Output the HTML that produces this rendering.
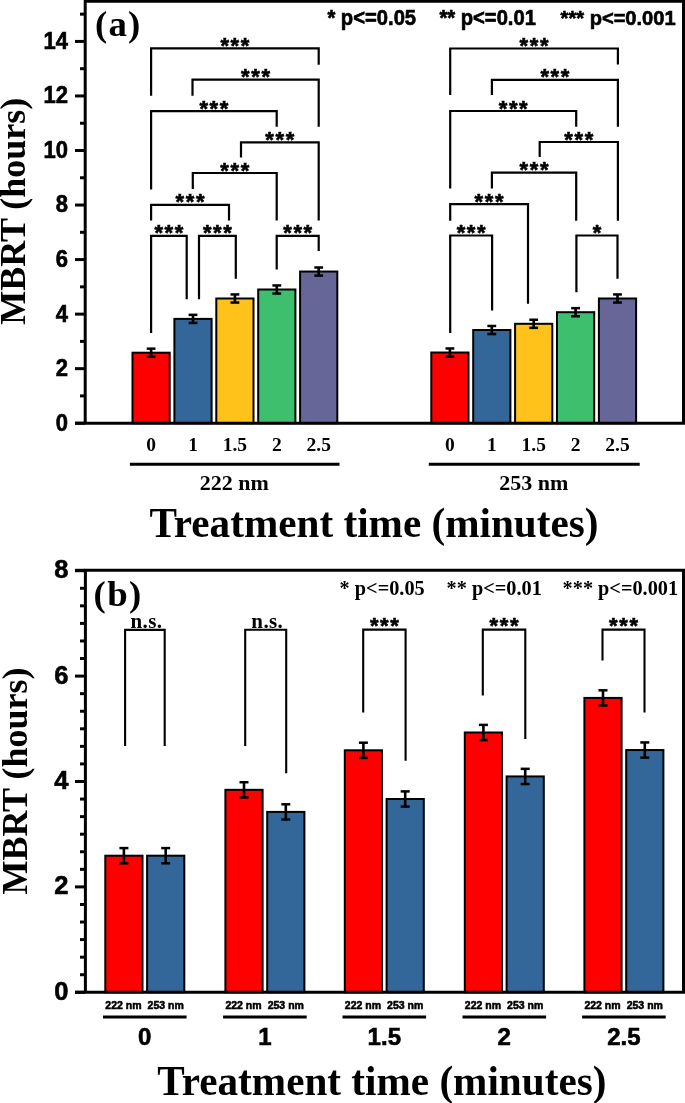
<!DOCTYPE html>
<html><head><meta charset="utf-8"><title>MBRT chart</title>
<style>html,body{margin:0;padding:0;background:#fff;}svg{display:block;}</style></head>
<body><svg width="685" height="1103" viewBox="0 0 685 1103">
<rect width="685" height="1103" fill="#fff"/>
<rect x="132.50" y="352.71" width="37.20" height="70.49" fill="#FF0000" stroke="#000" stroke-width="2.0"/>
<line x1="151.10" y1="348.66" x2="151.10" y2="356.76" stroke="#000" stroke-width="2.6"/>
<line x1="146.70" y1="348.66" x2="155.50" y2="348.66" stroke="#000" stroke-width="2.5"/>
<line x1="146.70" y1="356.76" x2="155.50" y2="356.76" stroke="#000" stroke-width="2.5"/>
<rect x="174.40" y="318.89" width="37.20" height="104.31" fill="#336699" stroke="#000" stroke-width="2.0"/>
<line x1="193.00" y1="314.84" x2="193.00" y2="322.94" stroke="#000" stroke-width="2.6"/>
<line x1="188.60" y1="314.84" x2="197.40" y2="314.84" stroke="#000" stroke-width="2.5"/>
<line x1="188.60" y1="322.94" x2="197.40" y2="322.94" stroke="#000" stroke-width="2.5"/>
<rect x="216.30" y="298.49" width="37.20" height="124.71" fill="#FFC21A" stroke="#000" stroke-width="2.0"/>
<line x1="234.90" y1="294.44" x2="234.90" y2="302.54" stroke="#000" stroke-width="2.6"/>
<line x1="230.50" y1="294.44" x2="239.30" y2="294.44" stroke="#000" stroke-width="2.5"/>
<line x1="230.50" y1="302.54" x2="239.30" y2="302.54" stroke="#000" stroke-width="2.5"/>
<rect x="258.20" y="289.50" width="37.20" height="133.70" fill="#3DBF6E" stroke="#000" stroke-width="2.0"/>
<line x1="276.80" y1="285.45" x2="276.80" y2="293.55" stroke="#000" stroke-width="2.6"/>
<line x1="272.40" y1="285.45" x2="281.20" y2="285.45" stroke="#000" stroke-width="2.5"/>
<line x1="272.40" y1="293.55" x2="281.20" y2="293.55" stroke="#000" stroke-width="2.5"/>
<rect x="300.10" y="271.55" width="37.20" height="151.65" fill="#666699" stroke="#000" stroke-width="2.0"/>
<line x1="318.70" y1="267.50" x2="318.70" y2="275.60" stroke="#000" stroke-width="2.6"/>
<line x1="314.30" y1="267.50" x2="323.10" y2="267.50" stroke="#000" stroke-width="2.5"/>
<line x1="314.30" y1="275.60" x2="323.10" y2="275.60" stroke="#000" stroke-width="2.5"/>
<rect x="431.30" y="352.52" width="37.20" height="70.68" fill="#FF0000" stroke="#000" stroke-width="2.0"/>
<line x1="449.90" y1="348.47" x2="449.90" y2="356.57" stroke="#000" stroke-width="2.6"/>
<line x1="445.50" y1="348.47" x2="454.30" y2="348.47" stroke="#000" stroke-width="2.5"/>
<line x1="445.50" y1="356.57" x2="454.30" y2="356.57" stroke="#000" stroke-width="2.5"/>
<rect x="473.20" y="330.02" width="37.20" height="93.18" fill="#336699" stroke="#000" stroke-width="2.0"/>
<line x1="491.80" y1="325.97" x2="491.80" y2="334.07" stroke="#000" stroke-width="2.6"/>
<line x1="487.40" y1="325.97" x2="496.20" y2="325.97" stroke="#000" stroke-width="2.5"/>
<line x1="487.40" y1="334.07" x2="496.20" y2="334.07" stroke="#000" stroke-width="2.5"/>
<rect x="515.10" y="323.80" width="37.20" height="99.40" fill="#FFC21A" stroke="#000" stroke-width="2.0"/>
<line x1="533.70" y1="319.75" x2="533.70" y2="327.85" stroke="#000" stroke-width="2.6"/>
<line x1="529.30" y1="319.75" x2="538.10" y2="319.75" stroke="#000" stroke-width="2.5"/>
<line x1="529.30" y1="327.85" x2="538.10" y2="327.85" stroke="#000" stroke-width="2.5"/>
<rect x="557.00" y="312.21" width="37.20" height="110.99" fill="#3DBF6E" stroke="#000" stroke-width="2.0"/>
<line x1="575.60" y1="308.16" x2="575.60" y2="316.26" stroke="#000" stroke-width="2.6"/>
<line x1="571.20" y1="308.16" x2="580.00" y2="308.16" stroke="#000" stroke-width="2.5"/>
<line x1="571.20" y1="316.26" x2="580.00" y2="316.26" stroke="#000" stroke-width="2.5"/>
<rect x="598.90" y="298.49" width="37.20" height="124.71" fill="#666699" stroke="#000" stroke-width="2.0"/>
<line x1="617.50" y1="294.44" x2="617.50" y2="302.54" stroke="#000" stroke-width="2.6"/>
<line x1="613.10" y1="294.44" x2="621.90" y2="294.44" stroke="#000" stroke-width="2.5"/>
<line x1="613.10" y1="302.54" x2="621.90" y2="302.54" stroke="#000" stroke-width="2.5"/>
<path d="M151.10 95.70V48.40H318.70V64.70" fill="none" stroke="#000" stroke-width="2.2"/>
<text x="220.40" y="52.95" font-family="'Liberation Sans', Arial, sans-serif" font-weight="bold" font-size="22" text-anchor="start" stroke="#000" stroke-width="0.6" letter-spacing="1.64">***</text>
<path d="M192.50 95.70V79.60H318.70V126.70" fill="none" stroke="#000" stroke-width="2.2"/>
<text x="241.10" y="84.15" font-family="'Liberation Sans', Arial, sans-serif" font-weight="bold" font-size="22" text-anchor="start" stroke="#000" stroke-width="0.6" letter-spacing="1.64">***</text>
<path d="M151.10 189.50V111.20H276.70V126.70" fill="none" stroke="#000" stroke-width="2.2"/>
<text x="199.40" y="115.75" font-family="'Liberation Sans', Arial, sans-serif" font-weight="bold" font-size="22" text-anchor="start" stroke="#000" stroke-width="0.6" letter-spacing="1.64">***</text>
<path d="M241.00 157.60V142.30H318.70V220.50" fill="none" stroke="#000" stroke-width="2.2"/>
<text x="265.35" y="146.85" font-family="'Liberation Sans', Arial, sans-serif" font-weight="bold" font-size="22" text-anchor="start" stroke="#000" stroke-width="0.6" letter-spacing="1.64">***</text>
<path d="M192.80 188.90V173.00H276.70V220.50" fill="none" stroke="#000" stroke-width="2.2"/>
<text x="220.25" y="177.55" font-family="'Liberation Sans', Arial, sans-serif" font-weight="bold" font-size="22" text-anchor="start" stroke="#000" stroke-width="0.6" letter-spacing="1.64">***</text>
<path d="M151.10 220.50V204.80H229.00V220.50" fill="none" stroke="#000" stroke-width="2.2"/>
<text x="175.55" y="209.35" font-family="'Liberation Sans', Arial, sans-serif" font-weight="bold" font-size="22" text-anchor="start" stroke="#000" stroke-width="0.6" letter-spacing="1.64">***</text>
<path d="M151.10 333.00V235.80H186.70V299.30" fill="none" stroke="#000" stroke-width="2.2"/>
<text x="154.40" y="240.35" font-family="'Liberation Sans', Arial, sans-serif" font-weight="bold" font-size="22" text-anchor="start" stroke="#000" stroke-width="0.6" letter-spacing="1.64">***</text>
<path d="M199.00 299.30V235.80H235.80V278.70" fill="none" stroke="#000" stroke-width="2.2"/>
<text x="202.90" y="240.35" font-family="'Liberation Sans', Arial, sans-serif" font-weight="bold" font-size="22" text-anchor="start" stroke="#000" stroke-width="0.6" letter-spacing="1.64">***</text>
<path d="M276.70 269.50V235.80H318.70V251.10" fill="none" stroke="#000" stroke-width="2.2"/>
<text x="283.20" y="240.35" font-family="'Liberation Sans', Arial, sans-serif" font-weight="bold" font-size="22" text-anchor="start" stroke="#000" stroke-width="0.6" letter-spacing="1.64">***</text>
<path d="M450.20 95.10V48.50H617.90V64.50" fill="none" stroke="#000" stroke-width="2.2"/>
<text x="519.55" y="53.05" font-family="'Liberation Sans', Arial, sans-serif" font-weight="bold" font-size="22" text-anchor="start" stroke="#000" stroke-width="0.6" letter-spacing="1.64">***</text>
<path d="M491.90 95.10V79.80H617.90V126.70" fill="none" stroke="#000" stroke-width="2.2"/>
<text x="540.40" y="84.35" font-family="'Liberation Sans', Arial, sans-serif" font-weight="bold" font-size="22" text-anchor="start" stroke="#000" stroke-width="0.6" letter-spacing="1.64">***</text>
<path d="M450.20 188.60V111.00H576.20V126.70" fill="none" stroke="#000" stroke-width="2.2"/>
<text x="498.70" y="115.55" font-family="'Liberation Sans', Arial, sans-serif" font-weight="bold" font-size="22" text-anchor="start" stroke="#000" stroke-width="0.6" letter-spacing="1.64">***</text>
<path d="M539.70 157.00V142.00H617.90V220.80" fill="none" stroke="#000" stroke-width="2.2"/>
<text x="564.30" y="146.55" font-family="'Liberation Sans', Arial, sans-serif" font-weight="bold" font-size="22" text-anchor="start" stroke="#000" stroke-width="0.6" letter-spacing="1.64">***</text>
<path d="M491.90 188.60V172.70H576.20V220.80" fill="none" stroke="#000" stroke-width="2.2"/>
<text x="519.55" y="177.25" font-family="'Liberation Sans', Arial, sans-serif" font-weight="bold" font-size="22" text-anchor="start" stroke="#000" stroke-width="0.6" letter-spacing="1.64">***</text>
<path d="M450.20 220.80V204.20H528.00V303.80" fill="none" stroke="#000" stroke-width="2.2"/>
<text x="474.60" y="208.75" font-family="'Liberation Sans', Arial, sans-serif" font-weight="bold" font-size="22" text-anchor="start" stroke="#000" stroke-width="0.6" letter-spacing="1.64">***</text>
<path d="M450.20 333.00V235.50H492.10V310.40" fill="none" stroke="#000" stroke-width="2.2"/>
<text x="456.65" y="240.05" font-family="'Liberation Sans', Arial, sans-serif" font-weight="bold" font-size="22" text-anchor="start" stroke="#000" stroke-width="0.6" letter-spacing="1.64">***</text>
<path d="M576.40 292.30V235.50H617.50V278.80" fill="none" stroke="#000" stroke-width="2.2"/>
<text x="592.65" y="240.05" font-family="'Liberation Sans', Arial, sans-serif" font-weight="bold" font-size="22" text-anchor="start" stroke="#000" stroke-width="0.6" letter-spacing="1.64">*</text>
<path d="M85.2 423.3V1.3H683.5V423.3" fill="none" stroke="#000" stroke-width="3"/>
<line x1="75.00" y1="423.30" x2="685.00" y2="423.30" stroke="#000" stroke-width="3"/>
<line x1="75.00" y1="423.20" x2="85.00" y2="423.20" stroke="#000" stroke-width="3"/>
<text transform="translate(68.00,430.60) scale(1,1.05)" font-family="'Liberation Sans', Arial, sans-serif" font-weight="bold" font-size="22" text-anchor="end" stroke="#000" stroke-width="0.6" >0</text>
<line x1="80.00" y1="395.93" x2="85.00" y2="395.93" stroke="#000" stroke-width="3"/>
<line x1="75.00" y1="368.66" x2="85.00" y2="368.66" stroke="#000" stroke-width="3"/>
<text transform="translate(68.00,376.06) scale(1,1.05)" font-family="'Liberation Sans', Arial, sans-serif" font-weight="bold" font-size="22" text-anchor="end" stroke="#000" stroke-width="0.6" >2</text>
<line x1="80.00" y1="341.39" x2="85.00" y2="341.39" stroke="#000" stroke-width="3"/>
<line x1="75.00" y1="314.12" x2="85.00" y2="314.12" stroke="#000" stroke-width="3"/>
<text transform="translate(68.00,321.52) scale(1,1.05)" font-family="'Liberation Sans', Arial, sans-serif" font-weight="bold" font-size="22" text-anchor="end" stroke="#000" stroke-width="0.6" >4</text>
<line x1="80.00" y1="286.85" x2="85.00" y2="286.85" stroke="#000" stroke-width="3"/>
<line x1="75.00" y1="259.58" x2="85.00" y2="259.58" stroke="#000" stroke-width="3"/>
<text transform="translate(68.00,266.98) scale(1,1.05)" font-family="'Liberation Sans', Arial, sans-serif" font-weight="bold" font-size="22" text-anchor="end" stroke="#000" stroke-width="0.6" >6</text>
<line x1="80.00" y1="232.31" x2="85.00" y2="232.31" stroke="#000" stroke-width="3"/>
<line x1="75.00" y1="205.04" x2="85.00" y2="205.04" stroke="#000" stroke-width="3"/>
<text transform="translate(68.00,212.44) scale(1,1.05)" font-family="'Liberation Sans', Arial, sans-serif" font-weight="bold" font-size="22" text-anchor="end" stroke="#000" stroke-width="0.6" >8</text>
<line x1="80.00" y1="177.77" x2="85.00" y2="177.77" stroke="#000" stroke-width="3"/>
<line x1="75.00" y1="150.50" x2="85.00" y2="150.50" stroke="#000" stroke-width="3"/>
<text transform="translate(68.00,157.90) scale(1,1.05)" font-family="'Liberation Sans', Arial, sans-serif" font-weight="bold" font-size="22" text-anchor="end" stroke="#000" stroke-width="0.6" >10</text>
<line x1="80.00" y1="123.23" x2="85.00" y2="123.23" stroke="#000" stroke-width="3"/>
<line x1="75.00" y1="95.96" x2="85.00" y2="95.96" stroke="#000" stroke-width="3"/>
<text transform="translate(68.00,103.36) scale(1,1.05)" font-family="'Liberation Sans', Arial, sans-serif" font-weight="bold" font-size="22" text-anchor="end" stroke="#000" stroke-width="0.6" >12</text>
<line x1="80.00" y1="68.69" x2="85.00" y2="68.69" stroke="#000" stroke-width="3"/>
<line x1="75.00" y1="41.42" x2="85.00" y2="41.42" stroke="#000" stroke-width="3"/>
<text transform="translate(68.00,48.82) scale(1,1.05)" font-family="'Liberation Sans', Arial, sans-serif" font-weight="bold" font-size="22" text-anchor="end" stroke="#000" stroke-width="0.6" >14</text>
<line x1="80.00" y1="14.15" x2="85.00" y2="14.15" stroke="#000" stroke-width="3"/>
<text x="95.00" y="35.60" font-family="'Liberation Serif', 'Times New Roman', serif" font-weight="bold" font-size="36.8" text-anchor="start" letter-spacing="1.2">(a)</text>
<text x="151.10" y="450.80" font-family="'Liberation Serif', 'Times New Roman', serif" font-weight="bold" font-size="19.5" text-anchor="middle" >0</text>
<text x="193.00" y="450.80" font-family="'Liberation Serif', 'Times New Roman', serif" font-weight="bold" font-size="19.5" text-anchor="middle" >1</text>
<text x="234.90" y="450.80" font-family="'Liberation Serif', 'Times New Roman', serif" font-weight="bold" font-size="19.5" text-anchor="middle" >1.5</text>
<text x="276.80" y="450.80" font-family="'Liberation Serif', 'Times New Roman', serif" font-weight="bold" font-size="19.5" text-anchor="middle" >2</text>
<text x="318.70" y="450.80" font-family="'Liberation Serif', 'Times New Roman', serif" font-weight="bold" font-size="19.5" text-anchor="middle" >2.5</text>
<text x="449.90" y="450.80" font-family="'Liberation Serif', 'Times New Roman', serif" font-weight="bold" font-size="19.5" text-anchor="middle" >0</text>
<text x="491.80" y="450.80" font-family="'Liberation Serif', 'Times New Roman', serif" font-weight="bold" font-size="19.5" text-anchor="middle" >1</text>
<text x="533.70" y="450.80" font-family="'Liberation Serif', 'Times New Roman', serif" font-weight="bold" font-size="19.5" text-anchor="middle" >1.5</text>
<text x="575.60" y="450.80" font-family="'Liberation Serif', 'Times New Roman', serif" font-weight="bold" font-size="19.5" text-anchor="middle" >2</text>
<text x="617.50" y="450.80" font-family="'Liberation Serif', 'Times New Roman', serif" font-weight="bold" font-size="19.5" text-anchor="middle" >2.5</text>
<line x1="129.90" y1="464.30" x2="339.50" y2="464.30" stroke="#000" stroke-width="3"/>
<line x1="428.80" y1="464.30" x2="639.70" y2="464.30" stroke="#000" stroke-width="3"/>
<text x="234.30" y="489.90" font-family="'Liberation Serif', 'Times New Roman', serif" font-weight="bold" font-size="22" text-anchor="middle" >222 nm</text>
<text x="533.90" y="489.90" font-family="'Liberation Serif', 'Times New Roman', serif" font-weight="bold" font-size="22" text-anchor="middle" >253 nm</text>
<text x="149.40" y="536.80" font-family="'Liberation Serif', 'Times New Roman', serif" font-weight="bold" font-size="41.2" text-anchor="start" >Treatment time (minutes)</text>
<text transform="translate(24.7,324.8) rotate(-90)" font-family="'Liberation Serif', 'Times New Roman', serif" font-weight="bold" font-size="36">MBRT (hours)</text>
<text transform="translate(327.40,25.00) scale(1,1.05)" font-family="'Liberation Sans', Arial, sans-serif" font-weight="bold" font-size="20.2" text-anchor="start" stroke="#000" stroke-width="0.6" >* p&lt;=0.05</text>
<text transform="translate(439.40,25.00) scale(1,1.05)" font-family="'Liberation Sans', Arial, sans-serif" font-weight="bold" font-size="20.2" text-anchor="start" stroke="#000" stroke-width="0.6" >** p&lt;=0.01</text>
<text transform="translate(560.60,25.00) scale(1,1.05)" font-family="'Liberation Sans', Arial, sans-serif" font-weight="bold" font-size="20.1" text-anchor="start" stroke="#000" stroke-width="0.6" >*** p&lt;=0.001</text>
<rect x="105.30" y="855.70" width="37.20" height="136.60" fill="#FF0000" stroke="#000" stroke-width="2.0"/>
<line x1="123.90" y1="848.10" x2="123.90" y2="863.30" stroke="#000" stroke-width="2.6"/>
<line x1="119.40" y1="848.10" x2="128.40" y2="848.10" stroke="#000" stroke-width="2.5"/>
<line x1="119.40" y1="863.30" x2="128.40" y2="863.30" stroke="#000" stroke-width="2.5"/>
<rect x="225.40" y="789.83" width="37.20" height="202.47" fill="#FF0000" stroke="#000" stroke-width="2.0"/>
<line x1="244.00" y1="782.23" x2="244.00" y2="797.43" stroke="#000" stroke-width="2.6"/>
<line x1="239.50" y1="782.23" x2="248.50" y2="782.23" stroke="#000" stroke-width="2.5"/>
<line x1="239.50" y1="797.43" x2="248.50" y2="797.43" stroke="#000" stroke-width="2.5"/>
<rect x="344.80" y="750.30" width="37.20" height="242.00" fill="#FF0000" stroke="#000" stroke-width="2.0"/>
<line x1="363.40" y1="742.70" x2="363.40" y2="757.90" stroke="#000" stroke-width="2.6"/>
<line x1="358.90" y1="742.70" x2="367.90" y2="742.70" stroke="#000" stroke-width="2.5"/>
<line x1="358.90" y1="757.90" x2="367.90" y2="757.90" stroke="#000" stroke-width="2.5"/>
<rect x="464.80" y="732.49" width="37.20" height="259.81" fill="#FF0000" stroke="#000" stroke-width="2.0"/>
<line x1="483.40" y1="724.89" x2="483.40" y2="740.09" stroke="#000" stroke-width="2.6"/>
<line x1="478.90" y1="724.89" x2="487.90" y2="724.89" stroke="#000" stroke-width="2.5"/>
<line x1="478.90" y1="740.09" x2="487.90" y2="740.09" stroke="#000" stroke-width="2.5"/>
<rect x="584.40" y="697.92" width="37.20" height="294.38" fill="#FF0000" stroke="#000" stroke-width="2.0"/>
<line x1="603.00" y1="690.32" x2="603.00" y2="705.52" stroke="#000" stroke-width="2.6"/>
<line x1="598.50" y1="690.32" x2="607.50" y2="690.32" stroke="#000" stroke-width="2.5"/>
<line x1="598.50" y1="705.52" x2="607.50" y2="705.52" stroke="#000" stroke-width="2.5"/>
<rect x="147.10" y="855.70" width="37.20" height="136.60" fill="#336699" stroke="#000" stroke-width="2.0"/>
<line x1="165.70" y1="848.10" x2="165.70" y2="863.30" stroke="#000" stroke-width="2.6"/>
<line x1="161.20" y1="848.10" x2="170.20" y2="848.10" stroke="#000" stroke-width="2.5"/>
<line x1="161.20" y1="863.30" x2="170.20" y2="863.30" stroke="#000" stroke-width="2.5"/>
<rect x="267.20" y="811.91" width="37.20" height="180.39" fill="#336699" stroke="#000" stroke-width="2.0"/>
<line x1="285.80" y1="804.31" x2="285.80" y2="819.51" stroke="#000" stroke-width="2.6"/>
<line x1="281.30" y1="804.31" x2="290.30" y2="804.31" stroke="#000" stroke-width="2.5"/>
<line x1="281.30" y1="819.51" x2="290.30" y2="819.51" stroke="#000" stroke-width="2.5"/>
<rect x="386.60" y="799.00" width="37.20" height="193.30" fill="#336699" stroke="#000" stroke-width="2.0"/>
<line x1="405.20" y1="791.40" x2="405.20" y2="806.60" stroke="#000" stroke-width="2.6"/>
<line x1="400.70" y1="791.40" x2="409.70" y2="791.40" stroke="#000" stroke-width="2.5"/>
<line x1="400.70" y1="806.60" x2="409.70" y2="806.60" stroke="#000" stroke-width="2.5"/>
<rect x="506.60" y="776.44" width="37.20" height="215.86" fill="#336699" stroke="#000" stroke-width="2.0"/>
<line x1="525.20" y1="768.84" x2="525.20" y2="784.04" stroke="#000" stroke-width="2.6"/>
<line x1="520.70" y1="768.84" x2="529.70" y2="768.84" stroke="#000" stroke-width="2.5"/>
<line x1="520.70" y1="784.04" x2="529.70" y2="784.04" stroke="#000" stroke-width="2.5"/>
<rect x="626.20" y="750.04" width="37.20" height="242.26" fill="#336699" stroke="#000" stroke-width="2.0"/>
<line x1="644.80" y1="742.44" x2="644.80" y2="757.64" stroke="#000" stroke-width="2.6"/>
<line x1="640.30" y1="742.44" x2="649.30" y2="742.44" stroke="#000" stroke-width="2.5"/>
<line x1="640.30" y1="757.64" x2="649.30" y2="757.64" stroke="#000" stroke-width="2.5"/>
<path d="M125.10 746.10V629.90H164.70V746.10" fill="none" stroke="#000" stroke-width="2.1"/>
<text x="146.50" y="628.35" font-family="'Liberation Serif', 'Times New Roman', serif" font-weight="bold" font-size="21" text-anchor="middle" letter-spacing="0.4">n.s.</text>
<path d="M245.20 746.10V629.70H286.20V773.30" fill="none" stroke="#000" stroke-width="2.1"/>
<text x="267.30" y="628.15" font-family="'Liberation Serif', 'Times New Roman', serif" font-weight="bold" font-size="21" text-anchor="middle" letter-spacing="0.4">n.s.</text>
<path d="M363.20 712.50V629.60H405.60V760.70" fill="none" stroke="#000" stroke-width="2.1"/>
<text x="369.90" y="633.20" font-family="'Liberation Sans', Arial, sans-serif" font-weight="bold" font-size="22" text-anchor="start" stroke="#000" stroke-width="0.6" letter-spacing="1.64">***</text>
<path d="M482.80 695.40V629.60H525.30V738.90" fill="none" stroke="#000" stroke-width="2.1"/>
<text x="489.55" y="633.20" font-family="'Liberation Sans', Arial, sans-serif" font-weight="bold" font-size="22" text-anchor="start" stroke="#000" stroke-width="0.6" letter-spacing="1.64">***</text>
<path d="M602.50 660.50V629.60H644.50V712.50" fill="none" stroke="#000" stroke-width="2.1"/>
<text x="609.00" y="633.20" font-family="'Liberation Sans', Arial, sans-serif" font-weight="bold" font-size="22" text-anchor="start" stroke="#000" stroke-width="0.6" letter-spacing="1.64">***</text>
<path d="M85.4 992.2V570.3H683.5V992.2" fill="none" stroke="#000" stroke-width="3"/>
<line x1="75.00" y1="570.30" x2="85.00" y2="570.30" stroke="#000" stroke-width="3"/>
<line x1="75.00" y1="992.20" x2="685.00" y2="992.20" stroke="#000" stroke-width="3"/>
<line x1="75.00" y1="992.30" x2="85.00" y2="992.30" stroke="#000" stroke-width="3"/>
<text x="68.50" y="999.80" font-family="'Liberation Sans', Arial, sans-serif" font-weight="bold" font-size="25.5" text-anchor="end" stroke="#000" stroke-width="0.6" >0</text>
<line x1="80.00" y1="974.73" x2="85.00" y2="974.73" stroke="#000" stroke-width="3"/>
<line x1="80.00" y1="957.17" x2="85.00" y2="957.17" stroke="#000" stroke-width="3"/>
<line x1="80.00" y1="939.60" x2="85.00" y2="939.60" stroke="#000" stroke-width="3"/>
<line x1="80.00" y1="922.03" x2="85.00" y2="922.03" stroke="#000" stroke-width="3"/>
<line x1="80.00" y1="904.47" x2="85.00" y2="904.47" stroke="#000" stroke-width="3"/>
<line x1="75.00" y1="886.90" x2="85.00" y2="886.90" stroke="#000" stroke-width="3"/>
<text x="68.50" y="894.40" font-family="'Liberation Sans', Arial, sans-serif" font-weight="bold" font-size="25.5" text-anchor="end" stroke="#000" stroke-width="0.6" >2</text>
<line x1="80.00" y1="869.33" x2="85.00" y2="869.33" stroke="#000" stroke-width="3"/>
<line x1="80.00" y1="851.77" x2="85.00" y2="851.77" stroke="#000" stroke-width="3"/>
<line x1="80.00" y1="834.20" x2="85.00" y2="834.20" stroke="#000" stroke-width="3"/>
<line x1="80.00" y1="816.63" x2="85.00" y2="816.63" stroke="#000" stroke-width="3"/>
<line x1="80.00" y1="799.07" x2="85.00" y2="799.07" stroke="#000" stroke-width="3"/>
<line x1="75.00" y1="781.50" x2="85.00" y2="781.50" stroke="#000" stroke-width="3"/>
<text x="68.50" y="789.00" font-family="'Liberation Sans', Arial, sans-serif" font-weight="bold" font-size="25.5" text-anchor="end" stroke="#000" stroke-width="0.6" >4</text>
<line x1="80.00" y1="763.93" x2="85.00" y2="763.93" stroke="#000" stroke-width="3"/>
<line x1="80.00" y1="746.37" x2="85.00" y2="746.37" stroke="#000" stroke-width="3"/>
<line x1="80.00" y1="728.80" x2="85.00" y2="728.80" stroke="#000" stroke-width="3"/>
<line x1="80.00" y1="711.23" x2="85.00" y2="711.23" stroke="#000" stroke-width="3"/>
<line x1="80.00" y1="693.67" x2="85.00" y2="693.67" stroke="#000" stroke-width="3"/>
<line x1="75.00" y1="676.10" x2="85.00" y2="676.10" stroke="#000" stroke-width="3"/>
<text x="68.50" y="683.60" font-family="'Liberation Sans', Arial, sans-serif" font-weight="bold" font-size="25.5" text-anchor="end" stroke="#000" stroke-width="0.6" >6</text>
<line x1="80.00" y1="658.53" x2="85.00" y2="658.53" stroke="#000" stroke-width="3"/>
<line x1="80.00" y1="640.97" x2="85.00" y2="640.97" stroke="#000" stroke-width="3"/>
<line x1="80.00" y1="623.40" x2="85.00" y2="623.40" stroke="#000" stroke-width="3"/>
<line x1="80.00" y1="605.83" x2="85.00" y2="605.83" stroke="#000" stroke-width="3"/>
<line x1="80.00" y1="588.27" x2="85.00" y2="588.27" stroke="#000" stroke-width="3"/>
<line x1="75.00" y1="570.70" x2="85.00" y2="570.70" stroke="#000" stroke-width="3"/>
<text x="68.50" y="578.20" font-family="'Liberation Sans', Arial, sans-serif" font-weight="bold" font-size="25.5" text-anchor="end" stroke="#000" stroke-width="0.6" >8</text>
<text x="93.60" y="606.10" font-family="'Liberation Serif', 'Times New Roman', serif" font-weight="bold" font-size="36.8" text-anchor="start" letter-spacing="1.4">(b)</text>
<text x="123.40" y="1008.60" font-family="'Liberation Sans', Arial, sans-serif" font-weight="bold" font-size="11.5" text-anchor="middle" stroke="#000" stroke-width="0.6" textLength="36.2" lengthAdjust="spacingAndGlyphs">222 nm</text>
<text x="165.70" y="1008.60" font-family="'Liberation Sans', Arial, sans-serif" font-weight="bold" font-size="11.5" text-anchor="middle" stroke="#000" stroke-width="0.6" textLength="36.2" lengthAdjust="spacingAndGlyphs">253 nm</text>
<line x1="103.00" y1="1017.10" x2="186.60" y2="1017.10" stroke="#000" stroke-width="3"/>
<text x="144.80" y="1045.10" font-family="'Liberation Sans', Arial, sans-serif" font-weight="bold" font-size="24" text-anchor="middle" stroke="#000" stroke-width="0.6" >0</text>
<text x="243.50" y="1008.60" font-family="'Liberation Sans', Arial, sans-serif" font-weight="bold" font-size="11.5" text-anchor="middle" stroke="#000" stroke-width="0.6" textLength="36.2" lengthAdjust="spacingAndGlyphs">222 nm</text>
<text x="285.80" y="1008.60" font-family="'Liberation Sans', Arial, sans-serif" font-weight="bold" font-size="11.5" text-anchor="middle" stroke="#000" stroke-width="0.6" textLength="36.2" lengthAdjust="spacingAndGlyphs">253 nm</text>
<line x1="223.10" y1="1017.10" x2="306.70" y2="1017.10" stroke="#000" stroke-width="3"/>
<text x="264.90" y="1045.10" font-family="'Liberation Sans', Arial, sans-serif" font-weight="bold" font-size="24" text-anchor="middle" stroke="#000" stroke-width="0.6" >1</text>
<text x="362.90" y="1008.60" font-family="'Liberation Sans', Arial, sans-serif" font-weight="bold" font-size="11.5" text-anchor="middle" stroke="#000" stroke-width="0.6" textLength="36.2" lengthAdjust="spacingAndGlyphs">222 nm</text>
<text x="405.20" y="1008.60" font-family="'Liberation Sans', Arial, sans-serif" font-weight="bold" font-size="11.5" text-anchor="middle" stroke="#000" stroke-width="0.6" textLength="36.2" lengthAdjust="spacingAndGlyphs">253 nm</text>
<line x1="342.50" y1="1017.10" x2="426.10" y2="1017.10" stroke="#000" stroke-width="3"/>
<text x="384.30" y="1045.10" font-family="'Liberation Sans', Arial, sans-serif" font-weight="bold" font-size="24" text-anchor="middle" stroke="#000" stroke-width="0.6" >1.5</text>
<text x="482.90" y="1008.60" font-family="'Liberation Sans', Arial, sans-serif" font-weight="bold" font-size="11.5" text-anchor="middle" stroke="#000" stroke-width="0.6" textLength="36.2" lengthAdjust="spacingAndGlyphs">222 nm</text>
<text x="525.20" y="1008.60" font-family="'Liberation Sans', Arial, sans-serif" font-weight="bold" font-size="11.5" text-anchor="middle" stroke="#000" stroke-width="0.6" textLength="36.2" lengthAdjust="spacingAndGlyphs">253 nm</text>
<line x1="462.50" y1="1017.10" x2="546.10" y2="1017.10" stroke="#000" stroke-width="3"/>
<text x="504.30" y="1045.10" font-family="'Liberation Sans', Arial, sans-serif" font-weight="bold" font-size="24" text-anchor="middle" stroke="#000" stroke-width="0.6" >2</text>
<text x="602.50" y="1008.60" font-family="'Liberation Sans', Arial, sans-serif" font-weight="bold" font-size="11.5" text-anchor="middle" stroke="#000" stroke-width="0.6" textLength="36.2" lengthAdjust="spacingAndGlyphs">222 nm</text>
<text x="644.80" y="1008.60" font-family="'Liberation Sans', Arial, sans-serif" font-weight="bold" font-size="11.5" text-anchor="middle" stroke="#000" stroke-width="0.6" textLength="36.2" lengthAdjust="spacingAndGlyphs">253 nm</text>
<line x1="582.10" y1="1017.10" x2="665.70" y2="1017.10" stroke="#000" stroke-width="3"/>
<text x="623.90" y="1045.10" font-family="'Liberation Sans', Arial, sans-serif" font-weight="bold" font-size="24" text-anchor="middle" stroke="#000" stroke-width="0.6" >2.5</text>
<text x="157.30" y="1094.70" font-family="'Liberation Serif', 'Times New Roman', serif" font-weight="bold" font-size="41.2" text-anchor="start" >Treatment time (minutes)</text>
<text transform="translate(27.0,894.6) rotate(-90)" font-family="'Liberation Serif', 'Times New Roman', serif" font-weight="bold" font-size="36">MBRT (hours)</text>
<text x="339.60" y="594.70" font-family="'Liberation Serif', 'Times New Roman', serif" font-weight="bold" font-size="20.3" text-anchor="start" >* p&lt;=0.05</text>
<text x="446.60" y="594.70" font-family="'Liberation Serif', 'Times New Roman', serif" font-weight="bold" font-size="20.3" text-anchor="start" >** p&lt;=0.01</text>
<text x="562.60" y="594.70" font-family="'Liberation Serif', 'Times New Roman', serif" font-weight="bold" font-size="20.3" text-anchor="start" >*** p&lt;=0.001</text>
</svg></body></html>
